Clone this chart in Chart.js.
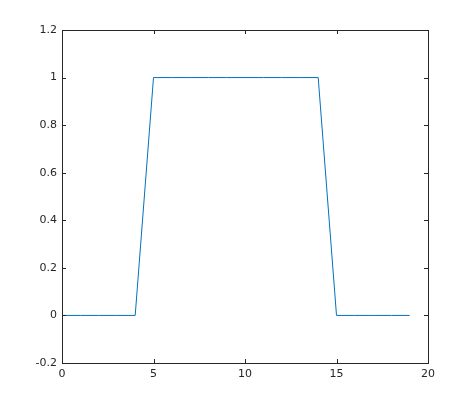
<!DOCTYPE html>
<html><head><meta charset="utf-8">
<script src="https://cdn.jsdelivr.net/npm/chart.js@4"></script>
<style>html,body{margin:0;padding:0;background:#fff}#w{width:474px;height:409px}</style>
</head><body><div id="w"><canvas id="c"></canvas></div>
<script>
const xValues = [0,1,2,3,4,5,6,7,8,9,10,11,12,13,14,15,16,17,18,19];
const yValues = [0,0,0,0,0,1,1,1,1,1,1,1,1,1,1,0,0,0,0,0];
const xTicks = [0,5,10,15,20];
const yTicks = [-0.2,0,0.2,0.4,0.6,0.8,1,1.2];
const axisColor = '#262626';

const boxTicks = {
  id:'boxTicks',
  afterDraw(chart){
    const {ctx, chartArea:a, scales:{x,y}} = chart;
    ctx.save();
    ctx.strokeStyle = axisColor; ctx.lineWidth = 1;
    ctx.strokeRect(Math.round(a.left)+0.5, Math.round(a.top)+0.5, Math.round(a.right-a.left), Math.round(a.bottom-a.top));
    const L = 4;
    ctx.beginPath();
    xTicks.forEach(v=>{const p=Math.round(x.getPixelForValue(v))+0.5;
      ctx.moveTo(p,a.bottom); ctx.lineTo(p,a.bottom-L);
      ctx.moveTo(p,a.top); ctx.lineTo(p,a.top+L);});
    yTicks.forEach(v=>{const p=Math.round(y.getPixelForValue(v))+0.5;
      ctx.moveTo(a.left,p); ctx.lineTo(a.left+L,p);
      ctx.moveTo(a.right,p); ctx.lineTo(a.right-L,p);});
    ctx.stroke();
    ctx.restore();
  }
};

new Chart(document.getElementById('c'), {
  type:'line',
  data:{datasets:[{data:xValues.map((v,i)=>({x:v,y:yValues[i]})), borderColor:'#0072BD', borderWidth:1, pointRadius:0, tension:0, fill:false}]},
  options:{
    responsive:true, maintainAspectRatio:false, animation:false,
    layout:{padding:{left:0,top:30,right:46,bottom:0}},
    plugins:{legend:{display:false},tooltip:{enabled:false}},
    scales:{
      x:{type:'linear', min:0, max:20, afterFit(s){s.height=46;},
        afterBuildTicks(s){s.ticks=xTicks.map(v=>({value:v}));},
        grid:{display:false, drawTicks:false}, border:{display:false},
        ticks:{padding:5, color:axisColor, font:{family:'DejaVu Sans', size:11}, maxRotation:0, autoSkip:false}},
      y:{type:'linear', min:-0.2, max:1.2, afterFit(s){s.width=62;},
        afterBuildTicks(s){s.ticks=yTicks.map(v=>({value:v}));},
        grid:{display:false, drawTicks:false}, border:{display:false},
        ticks:{padding:5, color:axisColor, font:{family:'DejaVu Sans', size:11}, autoSkip:false,
          callback:v=>String(Math.round(v*10)/10)}}
    }
  },
  plugins:[boxTicks]
});
</script></body></html>
